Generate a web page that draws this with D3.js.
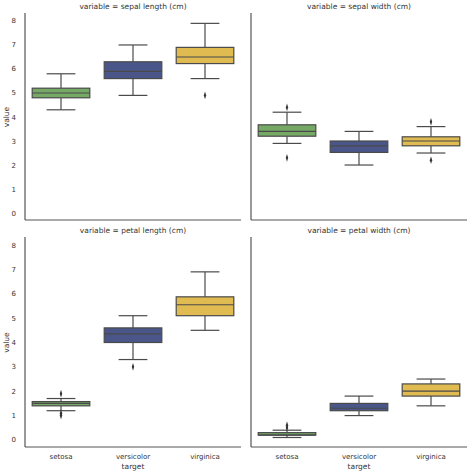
<!DOCTYPE html>
<html><head><meta charset="utf-8">
<script src="https://cdn.jsdelivr.net/npm/d3@7"></script>
<style>body{margin:0;background:#fff}text{font-family:"DejaVu Sans",sans-serif;fill:#333}</style>
</head><body><svg id="c" width="474" height="474"></svg>
<script>
var categories = ['setosa', 'versicolor', 'virginica'];
var variables = ['sepal length (cm)', 'sepal width (cm)', 'petal length (cm)', 'petal width (cm)'];
var colors = ['#76a866', '#4a5689', '#dfbb52'];
var yTicks = [0, 1, 2, 3, 4, 5, 6, 7, 8];
// [whiskerLow, q1, median, q3, whiskerHigh] per category
var sepalLength = [[4.3, 4.8, 5.0, 5.2, 5.8], [4.9, 5.6, 5.9, 6.3, 7.0], [5.6, 6.225, 6.5, 6.9, 7.9]];
var sepalWidth = [[2.9, 3.2, 3.4, 3.675, 4.2], [2.0, 2.525, 2.8, 3.0, 3.4], [2.5, 2.8, 3.0, 3.175, 3.6]];
var petalLength = [[1.2, 1.4, 1.5, 1.575, 1.7], [3.3, 4.0, 4.35, 4.6, 5.1], [4.5, 5.1, 5.55, 5.875, 6.9]];
var petalWidth = [[0.1, 0.2, 0.2, 0.3, 0.4], [1.0, 1.2, 1.3, 1.5, 1.8], [1.4, 1.8, 2.0, 2.3, 2.5]];
var sepalLengthOut = [[], [], [4.9]];
var sepalWidthOut = [[2.3, 4.4], [], [2.2, 3.8]];
var petalLengthOut = [[1.0, 1.1, 1.9], [3.0], []];
var petalWidthOut = [[0.5, 0.6], [], []];

var stats = [sepalLength, sepalWidth, petalLength, petalWidth];
var outliers = [sepalLengthOut, sepalWidthOut, petalLengthOut, petalWidthOut];

var svg = d3.select('#c');
var panels = [
    {x0: 25, x1: 241, y0: 14, y1: 220},
    {x0: 251, x1: 467, y0: 14, y1: 220},
    {x0: 25, x1: 241, y0: 238, y1: 447},
    {x0: 251, x1: 467, y0: 238, y1: 447}
];
var AXIS = '#555';
var EDGE = '#4a4a4a';

panels.forEach(function (p, i) {
    var g = svg.append('g');
    var x = d3.scaleBand().domain(categories).range([p.x0, p.x1]);
    var y = d3.scaleLinear().domain([-0.29, 8.29]).range([p.y1, p.y0]);
    var left = i % 2 === 0;
    var bottom = i >= 2;

    g.append('line').attr('x1', p.x0).attr('x2', p.x0).attr('y1', p.y0 - 1).attr('y2', p.y1)
        .attr('stroke', AXIS).attr('stroke-width', 1.2);
    g.append('line').attr('x1', p.x0).attr('x2', p.x1).attr('y1', p.y1).attr('y2', p.y1)
        .attr('stroke', AXIS).attr('stroke-width', 1.2);

    if (left) {
        g.selectAll('.yt').data(yTicks).enter().append('text')
            .attr('x', p.x0 - 9).attr('y', function (d) { return y(d) + 2.5; })
            .attr('text-anchor', 'end').attr('font-size', 7).text(function (d) { return d; });
        g.append('text').attr('transform', 'translate(9,' + ((p.y0 + p.y1) / 2) + ') rotate(-90)')
            .attr('text-anchor', 'middle').attr('font-size', 7.5).text('value');
    }
    if (bottom) {
        g.selectAll('.xt').data(categories).enter().append('text')
            .attr('x', function (d) { return x(d) + x.bandwidth() / 2; }).attr('y', p.y1 + 12)
            .attr('text-anchor', 'middle').attr('font-size', 7).text(function (d) { return d; });
        g.append('text').attr('x', (p.x0 + p.x1) / 2).attr('y', p.y1 + 21.5)
            .attr('text-anchor', 'middle').attr('font-size', 7.5).text('target');
    }
    g.append('text').attr('x', (p.x0 + p.x1) / 2).attr('y', p.y0 - 5)
        .attr('text-anchor', 'middle').attr('font-size', 7.5).text('variable = ' + variables[i]);

    var bw = x.bandwidth() * 0.8;
    categories.forEach(function (c, j) {
        var s = stats[i][j];
        var cx = x(c) + x.bandwidth() / 2;
        var bx = g.append('g').attr('stroke', EDGE).attr('stroke-width', 1.2);
        bx.append('line').attr('x1', cx).attr('x2', cx).attr('y1', y(s[0])).attr('y2', y(s[1]));
        bx.append('line').attr('x1', cx).attr('x2', cx).attr('y1', y(s[3])).attr('y2', y(s[4]));
        bx.append('line').attr('x1', cx - bw / 4).attr('x2', cx + bw / 4).attr('y1', y(s[0])).attr('y2', y(s[0]));
        bx.append('line').attr('x1', cx - bw / 4).attr('x2', cx + bw / 4).attr('y1', y(s[4])).attr('y2', y(s[4]));
        bx.append('rect').attr('x', cx - bw / 2).attr('width', bw)
            .attr('y', y(s[3])).attr('height', y(s[1]) - y(s[3])).attr('fill', colors[j]);
        bx.append('line').attr('x1', cx - bw / 2).attr('x2', cx + bw / 2).attr('y1', y(s[2])).attr('y2', y(s[2]));
        bx.selectAll('path').data(outliers[i][j]).enter().append('path')
            .attr('d', d3.symbol(d3.symbolDiamond, 10))
            .attr('transform', function (d) { return 'translate(' + cx + ',' + y(d) + ') scale(0.7,1.3)'; })
            .attr('fill', '#333').attr('stroke', 'none');
    });
});
</script></body></html>
